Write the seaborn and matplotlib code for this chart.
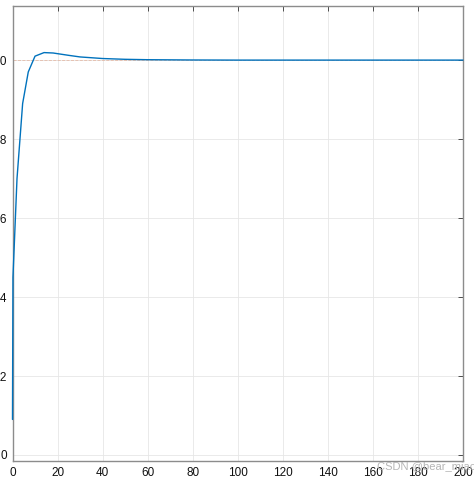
import matplotlib
matplotlib.use("Agg")
import matplotlib.pyplot as plt
import seaborn as sns
import pandas as pd

# Step response
t = [0, 0.2, 2, 4.5, 7, 10, 14, 18, 25, 30, 40, 50, 60, 80, 100, 150, 200]
y = [0.09, 0.45, 0.70, 0.89, 0.97, 1.010, 1.019, 1.018, 1.012, 1.008, 1.004, 1.002, 1.001, 1.0003, 1.0, 1.0, 1.0]
ref_t = [0, 200]
ref_y = [1.0, 1.0]
xticks = [0, 20, 40, 60, 80, 100, 120, 140, 160, 180, 200]
yticks = [0, 0.2, 0.4, 0.6, 0.8, 1.0]
ytick_labels = ["0", "0.2", "0.4", "0.6", "0.8", "1.0"]
watermark = "CSDN @bear_miao"

sns.set_theme(style="white")
plt.rcParams['font.family'] = ['Liberation Sans', 'DejaVu Sans']

W, H = 474, 478
fig = plt.figure(figsize=(W / 100, H / 100), dpi=100)
ax = fig.add_axes([12.5 / W, (H - 461) / H, (463 - 12.5) / W, (461 - 6) / H])

df = pd.DataFrame({"t": t, "y": y})
ref = pd.DataFrame({"t": ref_t, "y": ref_y})
sns.lineplot(data=ref, x="t", y="y", ax=ax, color="#D95319", alpha=0.3,
             linewidth=0.6, linestyle="--")
sns.lineplot(data=df, x="t", y="y", ax=ax, color="#0072BD", linewidth=1.0)
main_line = ax.lines[-1]
main_line.set_clip_on(False)
main_line.set_zorder(5)

ax.set_xlim(0, 200)
ax.set_ylim(-0.0152, 1.137)
ax.set_xticks(xticks)
ax.set_xticklabels([str(v) for v in xticks])
ax.set_yticks(yticks)
ax.set_yticklabels(ytick_labels)
ax.set_xlabel("")
ax.set_ylabel("")
ax.grid(True, color="#e6e6e6", linewidth=0.6)
ax.set_axisbelow(True)
for s in ax.spines.values():
    s.set_visible(True)
    s.set_color("#8c8c8c")
    s.set_linewidth(1.0)
ax.tick_params(direction="in", length=3.5, width=0.7, color="#4d4d4d",
               top=True, right=True, labelsize=8.5, labelcolor="#111111", pad=4)

fig.text(377 / W, 1 - 466 / H, watermark, fontsize=8, color="#b5b5b5",
         va="center", ha="left")

fig.savefig("out.png", dpi=100)
